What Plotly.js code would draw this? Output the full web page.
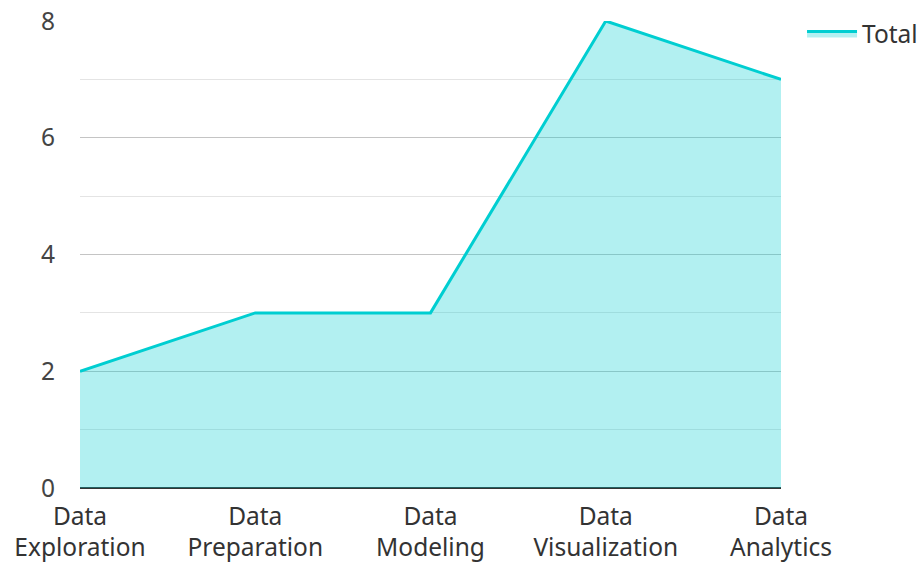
<!DOCTYPE html>
<html>
<head>
<meta charset="utf-8">
<script src="https://cdn.plot.ly/plotly-3.0.1.min.js"></script>
<style>html,body{margin:0;padding:0;background:#fff;}#chart{width:922px;height:562px;}</style>
</head>
<body>
<div id="chart"></div>
<script>
const categories = ["Data<br>Exploration", "Data<br>Preparation", "Data<br>Modeling", "Data<br>Visualization", "Data<br>Analytics"];
const totals = [2, 3, 3, 8, 7];
const seriesName = "Total";

const trace = {
  x: categories,
  y: totals,
  name: seriesName,
  type: "scatter",
  mode: "lines",
  fill: "tozeroy",
  fillcolor: "rgba(0,206,209,0.3)",
  line: {color: "#00ced1", width: 3},
  showlegend: true
};

const layout = {
  width: 922, height: 562,
  margin: {l: 80, r: 141, t: 21, b: 74, autoexpand: false},
  paper_bgcolor: "#fff", plot_bgcolor: "#fff",
  font: {family: "Noto Sans, Open Sans, sans-serif", size: 24.5, color: "#333"},
  xaxis: {
    type: "category",
    range: [0, 4],
    showgrid: false,
    zeroline: false,
    showline: false,
    ticks: "",
    ticklabelstandoff: 11,
    tickfont: {size: 24.5, color: "#333"},
    automargin: false
  },
  yaxis: {
    range: [0, 8],
    dtick: 2,
    tick0: 0,
    showgrid: true,
    gridcolor: "#c4c4c4",
    gridwidth: 1,
    minor: {dtick: 1, showgrid: true, gridcolor: "#e4e4e4", gridwidth: 1},
    zeroline: true,
    zerolinecolor: "#333",
    zerolinewidth: 2,
    showline: false,
    ticks: "",
    ticklabelstandoff: 24,
    tickfont: {size: 24.5, color: "#444"},
    automargin: false
  },
  legend: {x: 1.03, y: 1.021, xanchor: "left", yanchor: "top", itemwidth: 50, font: {size: 24.5, color: "#333"}, bgcolor: "rgba(0,0,0,0)"},
  showlegend: true
};

Plotly.newPlot("chart", [trace], layout, {displayModeBar: false, staticPlot: true});
</script>
</body>
</html>
